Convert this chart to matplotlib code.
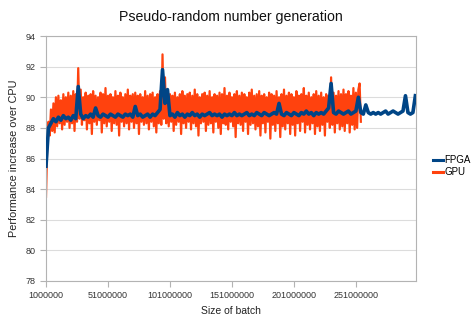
import numpy as np
import matplotlib
matplotlib.use("Agg")
import matplotlib.pyplot as plt

plt.rcParams['font.family'] = ['Liberation Sans', 'DejaVu Sans']

# FPGA sampled every 2M (1M .. 299M), GPU every 1M (1M .. 255M)
batch_fpga = np.arange(1000000, 300000000, 2000000)
batch_gpu = np.arange(1000000, 256000000, 1000000)

fpga = [85.5, 88.0, 88.3, 88.6, 88.4, 88.7, 88.5, 88.8, 88.6, 88.7,
        88.5, 88.8, 88.6, 90.7, 88.9, 88.6, 88.8, 88.7, 88.9, 88.7,
        89.3, 88.8, 88.7, 88.9, 88.8, 88.7, 88.9, 88.8, 88.7, 88.9,
        88.8, 88.7, 88.9, 88.8, 88.9, 88.7, 89.4, 88.8, 88.9, 88.7,
        88.8, 88.9, 88.7, 88.9, 88.8, 89.0, 89.2, 91.8, 89.6, 90.5,
        88.8, 88.9, 88.7, 89.0, 88.8, 88.9, 88.7, 88.9, 88.8, 89.0,
        88.8, 88.9, 88.7, 88.9, 88.8, 88.9, 89.0, 88.8, 88.9, 88.8,
        88.9, 88.7, 88.9, 88.8, 88.9, 88.8, 89.0, 88.8, 88.9, 88.8,
        88.9, 89.0, 88.8, 88.9, 88.8, 89.0, 88.9, 88.8, 89.0, 88.9,
        88.8, 88.9, 89.0, 88.9, 89.6, 88.9, 88.8, 89.0, 88.9, 88.8,
        89.0, 88.9, 88.8, 89.0, 88.9, 89.1, 88.9, 89.0, 88.8, 89.0,
        88.9, 89.0, 88.9, 89.1, 89.3, 90.9, 89.0, 88.9, 89.1, 89.0,
        88.9, 89.0, 89.1, 88.9, 89.0, 89.1, 90.0, 89.0, 88.9, 89.5,
        89.0, 88.9, 89.0, 88.9, 89.0, 88.9, 89.0, 89.1, 88.9, 89.0,
        89.1, 89.0, 88.9, 89.0, 89.1, 90.1, 89.0, 88.9, 89.0, 90.1]

gpu = [83.5, 86.9, 88.4, 87.5, 89.2, 87.8, 89.6, 87.7, 90.0, 88.1,
       90.1, 88.3, 89.8, 87.9, 90.2, 88.2, 90.0, 88.4, 90.3, 88.0,
       90.1, 88.3, 90.4, 87.8, 90.2, 88.4, 91.9, 88.6, 90.5, 88.2,
       90.0, 88.5, 90.3, 87.9, 90.1, 88.3, 90.2, 87.6, 90.4, 88.4,
       90.1, 88.2, 90.0, 88.5, 90.3, 87.7, 90.2, 88.3, 90.6, 88.1,
       90.1, 88.4, 90.2, 87.8, 90.0, 88.3, 90.4, 88.2, 90.1, 87.5,
       90.3, 88.4, 90.0, 88.1, 90.2, 88.3, 90.5, 87.9, 90.1, 88.4,
       90.2, 88.0, 90.3, 88.3, 90.1, 87.6, 90.2, 88.4, 90.0, 88.2,
       90.4, 88.3, 90.1, 87.9, 90.2, 88.4, 90.3, 88.1, 90.0, 87.7,
       90.2, 88.3, 90.4, 88.2, 92.8, 88.6, 91.3, 88.3, 90.5, 88.1,
       90.2, 88.4, 90.1, 87.8, 90.3, 88.2, 90.0, 88.4, 90.2, 87.6,
       90.4, 88.3, 90.1, 88.0, 90.2, 88.4, 90.3, 87.9, 90.1, 88.3,
       90.5, 88.1, 90.2, 87.5, 90.0, 88.3, 90.2, 88.4, 90.3, 87.8,
       90.1, 88.2, 90.4, 88.3, 90.0, 87.7, 90.2, 88.4, 90.1, 88.0,
       90.3, 87.6, 90.2, 88.3, 90.6, 88.2, 90.1, 87.9, 90.3, 88.4,
       90.0, 88.1, 90.2, 87.4, 90.4, 88.3, 90.1, 88.2, 90.3, 87.8,
       90.2, 88.4, 90.0, 87.6, 90.3, 88.2, 90.5, 88.3, 90.1, 87.9,
       90.2, 88.1, 90.4, 87.5, 90.1, 88.3, 90.2, 87.7, 90.0, 88.4,
       90.3, 87.3, 90.2, 88.2, 90.1, 87.8, 90.4, 88.3, 90.0, 87.4,
       90.2, 88.1, 90.5, 87.9, 90.1, 88.3, 90.3, 87.6, 90.2, 88.2,
       90.0, 87.5, 90.4, 88.3, 90.1, 87.8, 90.2, 88.4, 90.6, 87.7,
       90.1, 88.2, 90.3, 87.9, 90.0, 88.3, 90.2, 87.6, 90.4, 88.1,
       90.1, 87.8, 90.3, 88.2, 90.0, 87.5, 90.2, 88.4, 90.1, 88.0,
       91.3, 88.2, 90.3, 87.7, 90.1, 88.3, 90.4, 87.9, 90.2, 88.1,
       90.5, 87.8, 90.2, 88.3, 90.4, 87.7, 90.1, 88.2, 90.6, 87.9,
       90.3, 88.0, 90.5, 90.9, 88.4]

xticks = [1000000, 51000000, 101000000, 151000000, 201000000, 251000000]
yticks = [78, 80, 82, 84, 86, 88, 90, 92, 94]

fig = plt.figure(figsize=(4.74, 3.24), dpi=100)
ax = fig.add_axes([46/474, 1-281/324, 370/474, 245/324])

ax.plot(batch_gpu, gpu, color='#ff420e', lw=1.6, zorder=2, label='GPU')
ax.plot(batch_fpga, fpga, color='#004586', lw=2.6, zorder=3, label='FPGA')

ax.set_xlim(1000000, 299500000)
ax.set_ylim(78, 94)
ax.set_xticks(xticks)
ax.set_xticklabels([str(t) for t in xticks])
ax.set_yticks(yticks)
ax.tick_params(labelsize=6.5, colors='#b3b3b3', labelcolor='#333333', length=4, width=0.8)
ax.grid(axis='y', color='#dcdcdc', lw=0.8)
ax.set_axisbelow(True)
for s in ax.spines.values():
    s.set_color('#b3b3b3')
    s.set_linewidth(0.8)

ax.set_title('Pseudo-random number generation', fontsize=10.2, color='#111111', pad=11)
ax.set_xlabel('Size of batch', fontsize=7.5, color='#222222', labelpad=4)
ax.set_ylabel('Performance increase over CPU', fontsize=7.8, color='#222222', labelpad=5)

h, l = ax.get_legend_handles_labels()
leg = ax.legend(h[::-1], l[::-1], loc='center left', bbox_to_anchor=(428/474, 1-166/324),
                bbox_transform=fig.transFigure, frameon=False, fontsize=7,
                handlelength=1.0, handletextpad=0.15, labelspacing=0.2, borderpad=0)
for line in leg.get_lines():
    line.set_linewidth(2.2)

fig.savefig('out.png', dpi=100)
